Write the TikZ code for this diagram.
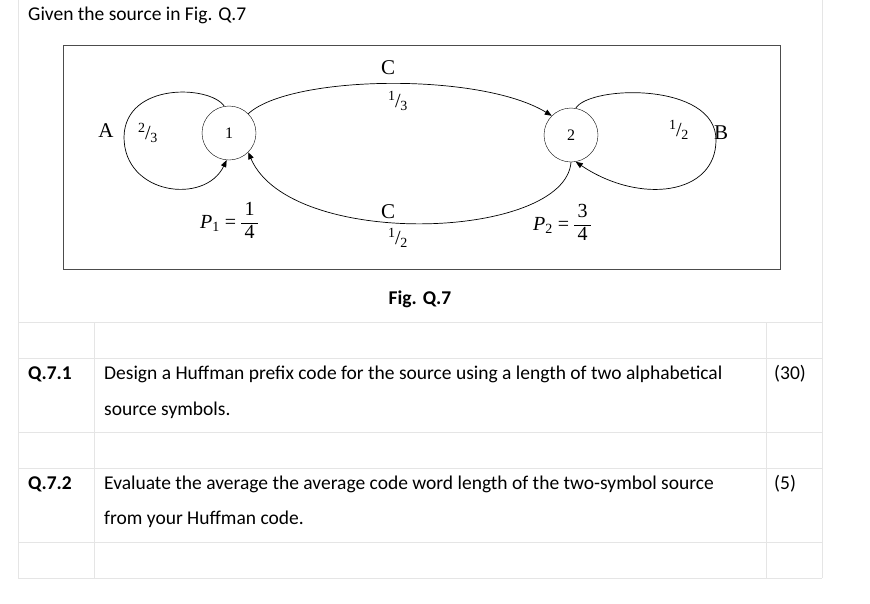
\documentclass[tikz,border=0pt]{standalone}
\usepackage{fontspec}
\setmainfont{Carlito}
\newfontfamily\tnr{Liberation Serif}
\usetikzlibrary{arrows.meta}
\newcommand\myfr[2]{\textsuperscript{#1}\kern-0.5pt/\kern-0.5pt\textsubscript{#2}}
\newcommand\mystk[2]{$\vcenter{\hbox{\renewcommand\arraystretch{1}\begin{tabular}{@{\,}c@{\,}}#1\\[1pt]\hline\rule{0pt}{15pt}#2\end{tabular}}}$}
\begin{document}
\begin{tikzpicture}[x=1pt,y=-1pt,
  grid/.style={draw=black!10,line width=0.8pt},
  st/.style={draw,circle,minimum size=54pt,inner sep=0pt,font=\tnr\fontsize{16}{16}\selectfont},
  arc/.style={draw,line width=0.7pt,-{Triangle[length=7pt,width=5.5pt]}},
  lab/.style={font=\tnr\fontsize{21}{21}\selectfont,inner sep=0pt},
  fr/.style={font=\tnr\fontsize{20}{20}\selectfont,inner sep=0pt},
  txt/.style={font=\fontsize{19.5}{22}\selectfont,anchor=west,inner sep=0pt}]
\useasboundingbox (0,0) rectangle (870,603);
\fill[white] (0,0) rectangle (870,603);
% table grid
\draw[grid] (18,0) -- (18,578);
\draw[grid] (822,0) -- (822,578);
\draw[grid] (94,322) -- (94,578);
\draw[grid] (766,322) -- (766,578);
\foreach \y in {322,358,432,468,542,578} \draw[grid] (18,\y) -- (822,\y);
\node[txt] (t0) at (28,15) {Given the source in Fig. Q.7};
% figure box
\draw[line width=1pt,black!70] (63,45) rectangle (780,269);
\node[st] (n1) at (229,133) {1};
\node[st] (n2) at (571,135) {2};
% left loop
\draw[arc] (n1.100) .. controls (210,85) and (125,82) .. (124,137)
  .. controls (124,195) and (205,205) .. (n1.265);
% right loop
\draw[arc] (n2.80) .. controls (590,85) and (716,82) .. (716,140)
  .. controls (716,195) and (640,205) .. (n2.280);
% top arc
\draw[arc] (n1.45) .. controls (290,75) and (480,72) .. (n2.135);
% bottom arc
\draw[arc] (n2.270) .. controls (565,240) and (290,250) .. (n1.315);
% labels
\node[lab] (lc1) at (388,68) {C};
\node[fr] (lf1) at (398,101) {\myfr{1}{3}};
\node[lab] (la) at (106,131) {A};
\node[fr] (lf2) at (148,133) {\myfr{2}{3}};
\node[fr] (lf3) at (679,130) {\myfr{1}{2}};
\node[lab] (lb) at (721,133) {B};
\node[lab] (lc2) at (388,212) {C};
\node[fr] (lf4) at (398,238) {\myfr{1}{2}};
\node[fr] (p1) at (229,223) {{\itshape P}\textsubscript{1} = \mystk{1}{4}};
\node[fr] (p2) at (562,225) {{\itshape P}\textsubscript{2} = \mystk{3}{4}};
\node[font=\bfseries\fontsize{19.5}{22}\selectfont] (fig) at (420,299) {Fig. Q.7};
% questions
\node[txt,font=\bfseries\fontsize{19.5}{22}\selectfont] (q1) at (28,374) {Q.7.1};
\node[txt] (q1a) at (104,374) {Design a Huffman prefix code for the source using a length of two alphabetical};
\node[txt] (q1b) at (104,410) {source symbols.};
\node[txt] (m1) at (774,374) {(30)};
\node[txt,font=\bfseries\fontsize{19.5}{22}\selectfont] (q2) at (28,484) {Q.7.2};
\node[txt] (q2a) at (104,484) {Evaluate the average the average code word length of the two-symbol source};
\node[txt] (q2b) at (104,519) {from your Huffman code.};
\node[txt] (m2) at (774,484) {(5)};
\end{tikzpicture}
\end{document}
